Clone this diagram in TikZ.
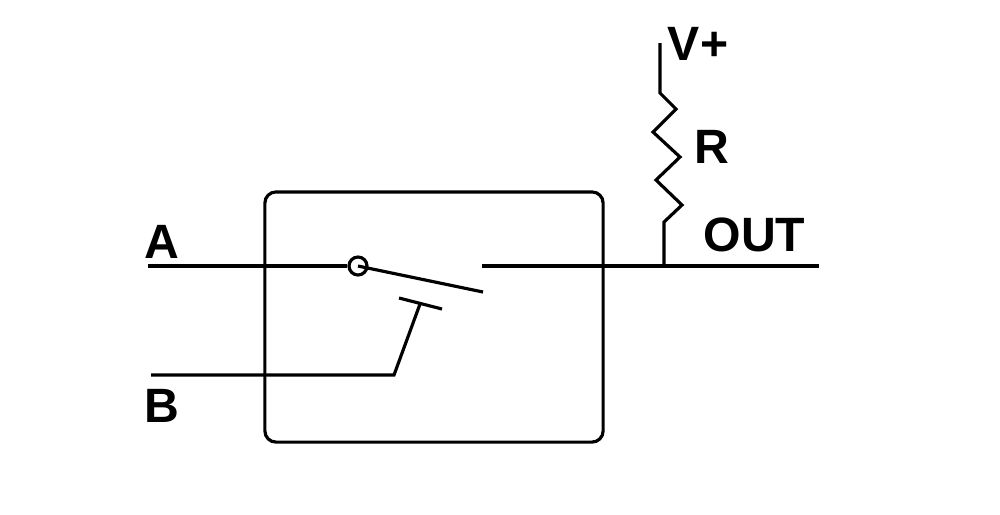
\documentclass[tikz,border=0pt]{standalone}
\usepackage{fontspec}
\setmainfont{Liberation Sans}
\tikzset{
	wire/.style={line width=0.9pt},
	lbl/.style={font=\fontsize{13.7pt}{16pt}\selectfont\bfseries, inner sep=0pt}
}
\begin{document}
\begin{tikzpicture}[x=0.01cm,y=-0.01cm]
	\useasboundingbox (0,0) rectangle (1000,514);
	\node [wire, draw, rounded corners=0.11cm, minimum width=3.38cm, minimum height=2.5cm, inner sep=0pt] (box) at (434,317) {};
	\node [wire, draw, circle, minimum size=0.18cm, inner sep=0pt] (pole) at (358,266) {};
	\coordinate (a) at (148,266);
	\coordinate (b) at (151,375);
	\coordinate (bend) at (394,375);
	\coordinate (stem) at (420,304);
	\coordinate (barl) at (399,298);
	\coordinate (barr) at (442,309);
	\coordinate (tip) at (483,292);
	\coordinate (contact) at (482,266);
	\coordinate (out) at (819,266);
	\coordinate (join) at (664,266);
	\coordinate (vcc) at (660,43);
	\draw [wire] (a) -- (pole);
	\draw [wire] (pole.center) -- (tip);
	\draw [wire] (contact) -- (out);
	\draw [wire] (barl) -- (barr);
	\draw [wire] (b) -- (bend) -- (stem);
	\draw [wire] (vcc) -- (660,93) -- (676,109) -- (653,132) -- (680,157) -- (656,180) -- (682,205) -- (664,222) -- (join);
	\node [lbl] (la) at (161.5,241.5) {A};
	\node [lbl] (lb) at (161.5,406) {B};
	\node [lbl] (lv) at (698,43.5) {V+};
	\node [lbl] (lr) at (711.5,147) {R};
	\node [lbl] (lout) at (754.5,235) {OUT};
\end{tikzpicture}
\end{document}
